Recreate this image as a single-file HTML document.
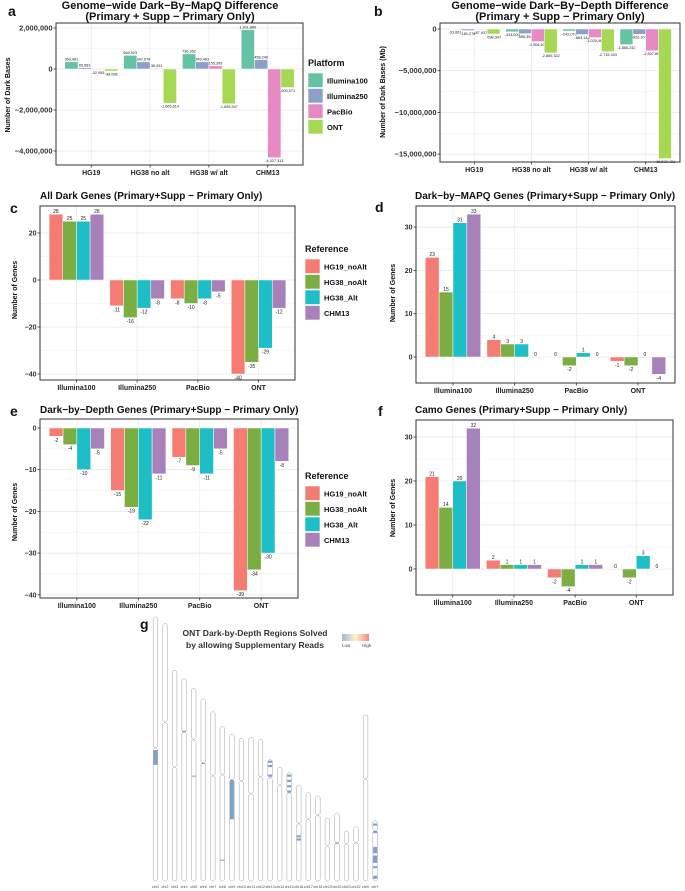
<!DOCTYPE html>
<html><head><meta charset="utf-8"><style>
body{margin:0;background:#fff}
svg{display:block;font-family:"Liberation Sans",sans-serif}
</style></head><body>
<svg id="fig" width="685" height="891" viewBox="0 0 685 891" xmlns="http://www.w3.org/2000/svg"></svg>
<script>
// ---- data ----
const refCats = ["Illumina100","Illumina250","PacBio","ONT"];
const refGroups = ["HG19_noAlt","HG38_noAlt","HG38_Alt","CHM13"];
const genomeCats = ["HG19","HG38 no alt","HG38 w/ alt","CHM13"];
const platforms = ["Illumina100","Illumina250","PacBio","ONT"];
const mapqHG19 = [350981,65583,-32955,-98098];
const mapqHG38noalt = [665923,347678,36491,-1665614];
const mapqHG38alt = [736352,349463,155395,-1695547];
const mapqCHM13 = [1911880,458246,-4327313,-903071];
const depthHG19 = [-33661,-181278,-87937,-598347];
const depthHG38noalt = [-343000,-555354,-1506678,-2869322];
const depthHG38alt = [-242079,-663144,-1029468,-2715403];
const depthCHM13 = [-1866242,-626101,-2607886,-15533421];
const allIll100 = [28,25,25,28], allIll250 = [-11,-16,-12,-8], allPac = [-8,-10,-8,-5], allONT = [-40,-35,-29,-12];
const mqIll100 = [23,15,31,33], mqIll250 = [4,3,3,0], mqPac = [0,-2,1,0], mqONT = [-1,-2,0,-4];
const dpIll100 = [-2,-4,-10,-5], dpIll250 = [-15,-19,-22,-11], dpPac = [-7,-9,-11,-5], dpONT = [-39,-34,-30,-8];
const cmIll100 = [21,14,20,32], cmIll250 = [2,1,1,1], cmPac = [-2,-4,1,1], cmONT = [0,-2,3,0];
const ticksA = [2000000,0,-2000000,-4000000];
const ticksB = [0,-5000000,-10000000,-15000000];
const ticksC = [20,0,-20,-40], ticksD = [30,20,10,0], ticksE = [0,-10,-20,-30,-40], ticksF = [30,20,10,0];
const chrNames = ["chr1","chr2","chr3","chr4","chr5","chr6","chr7","chr8","chr9","chr10","chr11","chr12","chr13","chr14","chr15","chr16","chr17","chr18","chr19","chr20","chr21","chr22","chrX","chrY"];
const chrLen = [248,242,198,190,181,171,159,145,138,134,135,133,114,107,102,90,83,80,59,64,47,51,156,57];
const chrCen = [123,93,91,50,48,60,60,45,43,40,53,35,17,17,19,36,25,18,26,28,12,15,60,10];
// bands: [chrIndex, startMb, endMb]
const bands = [[0,125,139],[8,43,80],[12,1,3],[12,5,7],[12,14,16],[14,2,4],[14,7,9],[14,12,14],[14,17,19],[15,47,49],[15,50,52],[23,3,5],[23,10,12],[23,25,31],[23,33,40],[23,43,45],[23,52,55],[3,49,50],[4,82,83],[5,60,61],[7,125,126],[19,28,29]];

const platColors = ["#66C2A5","#8DA0CB","#E78AC3","#A6D854"];
const refColors = ["#F47C72","#7AAD42","#1DBEC6","#A981BA"];
const NS="http://www.w3.org/2000/svg";
const svg=document.getElementById('fig');
function mk(tag,attrs,parent){const e=document.createElementNS(NS,tag);for(const k in attrs)e.setAttribute(k,attrs[k]);(parent||svg).appendChild(e);return e;}
function txt(s,x,y,size,attrs,parent){const t=mk('text',Object.assign({x:x,y:y,'font-size':size},attrs||{}),parent);t.textContent=s;return t;}
function fmt(v){return v.toLocaleString('en-US');}

function panel(o){
  const g=mk('g',{});
  
  
  const u=(o.right-o.left)/4.2;
  const xc=i=>o.left+(0.6+i)*u;
  const y=v=>o.y0-v*o.ppu;
  mk('rect',{x:o.left,y:o.top,width:o.right-o.left,height:o.bottom-o.top,fill:'#fff'},g);
  for(let i=0;i<o.ticks.length;i++){
    mk('line',{x1:o.left,x2:o.right,y1:y(o.ticks[i]),y2:y(o.ticks[i]),stroke:'#e6e6e6','stroke-width':0.8},g);
    if(i<o.ticks.length-1){const m=(o.ticks[i]+o.ticks[i+1])/2;mk('line',{x1:o.left,x2:o.right,y1:y(m),y2:y(m),stroke:'#f2f2f2','stroke-width':0.5},g);}
  }
  for(let i=0;i<4;i++)mk('line',{x1:xc(i),x2:xc(i),y1:o.top,y2:o.bottom,stroke:'#ebebeb','stroke-width':0.8},g);
  const bw=u*0.225;
  o.series.forEach((vals,ci)=>{
    vals.forEach((v,si)=>{
      const x=xc(ci)-2*bw+si*bw;
      const y1=Math.min(y(v),y(0)),h=Math.max(Math.abs(y(v)-y(0)),0.6);
      const r=mk('rect',{x:x,y:y1,width:bw,height:h,fill:o.colors[si],stroke:'#fff','stroke-width':0.5},g);
      
      
      const lab=o.big?fmt(v):String(v);
      const ly=v>=0?y(v)-1.2:y(v)+o.lfs+0.5;
      const t=txt(lab,x+bw/2,ly,o.lfs,{'text-anchor':'middle',fill:'#222'},g);
      
      
    });
  });
  mk('rect',{x:o.left,y:o.top,width:o.right-o.left,height:o.bottom-o.top,fill:'none',stroke:'#333','stroke-width':1},g);
  o.ticks.forEach(t=>{
    mk('line',{x1:o.left-2.5,x2:o.left,y1:y(t),y2:y(t),stroke:'#333','stroke-width':0.8},g);
    const tl=txt(o.big?fmt(t).replace('-','\u2212'):String(t).replace('-','\u2212'),o.left-3.5,y(t)+2.5,o.tfs,{'text-anchor':'end','font-weight':'bold',fill:'#333'},g);
    
    
  });
  o.cats.forEach((c,i)=>{
    mk('line',{x1:xc(i),x2:xc(i),y1:o.bottom,y2:o.bottom+2.5,stroke:'#333','stroke-width':0.8},g);
    const tl=txt(c,xc(i),o.bottom+10,7,{'text-anchor':'middle','font-weight':'bold',fill:'#222'},g);
    
    
  });
  const yl=txt(o.ylab,0,0,7,{'text-anchor':'middle','font-weight':'bold',fill:'#111',transform:`translate(${o.ylx},${o.yly}) rotate(-90)`},g);
  
  
  o.title.forEach((s,i)=>{
    const tt=txt(s,o.tx,o.ty+i*11,o.tfsT||10,{'text-anchor':o.tanchor||'middle','font-weight':'bold',fill:'#111'},g);
    
    
  });
  const pl=txt(o.letter,o.lx,o.ly,14,{'font-weight':'bold',fill:'#111'},g);
  
  
}
function legend(title,items,colors,x,y,name){
  const g=mk('g',{});
  
  
  txt(title,x,y,9,{'font-weight':'bold',fill:'#111'},g);
  items.forEach((s,i)=>{
    const r=mk('rect',{x:x,y:y+7+i*15.5,width:15,height:14.5,fill:colors[i],stroke:'#fff','stroke-width':0.6},g);
    
    
    txt(s,x+19,y+17.5+i*15.5,7.5,{'font-weight':'bold',fill:'#111'},g);
  });
}
panel({name:'panel-a-mapq-bases',left:56,right:303,top:23,bottom:165,y0:69,ppu:41/2000000,ticks:ticksA,big:true,lfs:3.8,tfs:7.5,
  series:[mapqHG19,mapqHG38noalt,mapqHG38alt,mapqCHM13],cats:genomeCats,groups:platforms,colors:platColors,tfsT:11,
  ylab:'Number of Dark Bases',ylx:10,yly:95,title:['Genome\u2212wide Dark\u2212By\u2212MapQ Difference','(Primary + Supp \u2212 Primary Only)'],tx:170,ty:9,letter:'a',lx:8,ly:16});
legend('Platform',platforms,platColors,308,66,'legend-platform');
panel({name:'panel-b-depth-bases',left:440,right:680,top:23,bottom:162,y0:29,ppu:41.7/5000000,ticks:ticksB,big:true,lfs:3.8,tfs:7.5,
  series:[depthHG19,depthHG38noalt,depthHG38alt,depthCHM13],cats:genomeCats,groups:platforms,colors:platColors,tfsT:11,
  ylab:'Number of Dark Bases (Mb)',ylx:385,yly:92,title:['Genome\u2212wide Dark\u2212By\u2212Depth Difference','(Primary + Supp \u2212 Primary Only)'],tx:560,ty:9,letter:'b',lx:374,ly:16});
panel({name:'panel-c-all-dark-genes',left:40,right:295,top:206,bottom:380,y0:280,ppu:2.35,ticks:ticksC,lfs:5,tfs:7,
  series:[allIll100,allIll250,allPac,allONT],cats:refCats,groups:refGroups,colors:refColors,
  ylab:'Number of Genes',ylx:17,yly:290,title:['All Dark Genes (Primary+Supp \u2212 Primary Only)'],tx:40,ty:199,tanchor:'start',letter:'c',lx:10,ly:213});
legend('Reference',refGroups,refColors,305,252,'legend-reference-c');
panel({name:'panel-d-mapq-genes',left:416,right:675,top:206,bottom:383,y0:357,ppu:4.33,ticks:ticksD,lfs:5,tfs:7,
  series:[mqIll100,mqIll250,mqPac,mqONT],cats:refCats,groups:refGroups,colors:refColors,
  ylab:'Number of Genes',ylx:395,yly:293,title:['Dark\u2212by\u2212MAPQ Genes (Primary+Supp \u2212 Primary Only)'],tx:415,ty:199,tanchor:'start',letter:'d',lx:375,ly:212});
panel({name:'panel-e-depth-genes',left:40,right:298,top:419,bottom:598,y0:428,ppu:4.17,ticks:ticksE,lfs:5,tfs:7,
  series:[dpIll100,dpIll250,dpPac,dpONT],cats:refCats,groups:refGroups,colors:refColors,
  ylab:'Number of Genes',ylx:17,yly:512,title:['Dark\u2212by\u2212Depth Genes (Primary+Supp \u2212 Primary Only)'],tx:40,ty:413,tanchor:'start',letter:'e',lx:10,ly:416});
legend('Reference',refGroups,refColors,305,479,'legend-reference-e');
panel({name:'panel-f-camo-genes',left:416,right:673,top:420,bottom:595,y0:569,ppu:4.4,ticks:ticksF,lfs:5,tfs:7,
  series:[cmIll100,cmIll250,cmPac,cmONT],cats:refCats,groups:refGroups,colors:refColors,
  ylab:'Number of Genes',ylx:395,yly:508,title:['Camo Genes (Primary+Supp \u2212 Primary Only)'],tx:415,ty:413,tanchor:'start',letter:'f',lx:378,ly:416});

// ---- panel g ideogram ----
const gG=mk('g',{});


const gBottom=881, gScale=264/248;
const chrX=i=>155.5+i*9.55;
chrNames.forEach((n,i)=>{
  const top=gBottom-chrLen[i]*gScale, cy=top+chrCen[i]*gScale, x=chrX(i), w=4.6, r=w/2;
  const p=mk('path',{d:`M${x-r},${top+r} A${r},${r} 0 0 1 ${x+r},${top+r} L${x+r},${cy-1.5} L${x},${cy} L${x+r},${cy+1.5} L${x+r},${gBottom-r} A${r},${r} 0 0 1 ${x-r},${gBottom-r} L${x-r},${cy+1.5} L${x},${cy} L${x-r},${cy-1.5} Z`,fill:'#fff',stroke:'#999','stroke-width':0.45},gG);
  
  
  const t=txt(n,x,888,3.6,{'text-anchor':'middle',fill:'#444'},gG);
  
  
});
bands.forEach(b=>{
  const i=b[0],top=gBottom-chrLen[i]*gScale;
  const r=mk('rect',{x:chrX(i)-2,y:top+b[1]*gScale,width:4,height:Math.max((b[2]-b[1])*gScale,0.6),fill:'#6d8fc4',opacity:0.85},gG);
  
  
});
txt('g',140,629,14,{'font-weight':'bold',fill:'#111'},gG);
txt('ONT Dark-by-Depth Regions Solved',255,636,8.5,{'text-anchor':'middle','font-weight':'bold',fill:'#333'},gG);
txt('by allowing Supplementary Reads',255,648,8.5,{'text-anchor':'middle','font-weight':'bold',fill:'#333'},gG);
const defs=mk('defs',{});
const lg=mk('linearGradient',{id:'hg'},defs);
[['0','#9db8dc'],['0.5','#fbf6c8'],['1','#f08a80']].forEach(s=>mk('stop',{offset:s[0],'stop-color':s[1]},lg));
const gr=mk('rect',{x:342,y:634,width:27,height:7,fill:'url(#hg)'},gG);


txt('Low',342,647,4.5,{fill:'#444'},gG);
txt('High',362,647,4.5,{fill:'#444'},gG);
</script>
</body></html>
